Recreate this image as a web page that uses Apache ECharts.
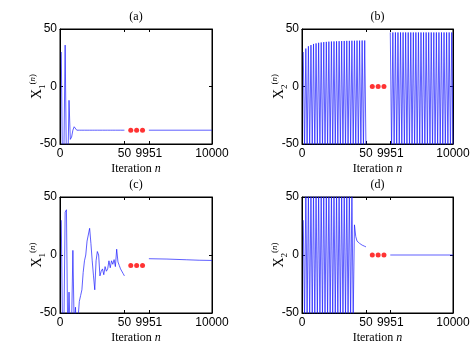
<!DOCTYPE html>
<html>
<head>
<meta charset="utf-8">
<script src="https://cdn.jsdelivr.net/npm/echarts@6/dist/echarts.min.js"></script>
<style>
  html, body { margin: 0; padding: 0; background: #fff; }
  #chart { width: 474px; height: 353px; }
</style>
</head>
<body>
<div id="chart"></div>
<script>
// ticks on the broken iteration axis
const tickN = [0, 50, 9951, 10000];

// (a) X1, n = 1..50 then n = 9951..10000
const aLeft = [30, -80, -60, 36, -70, -75, -12, -46, -44, -38,
  -35, -36, -38, -38, -38, -38, -38, -38, -38, -38,
  -38, -38, -38, -38, -38, -38, -38, -38, -38, -38,
  -38, -38, -38, -38, -38, -38, -38, -38, -38, -38,
  -38, -38, -38, -38, -38, -38, -38, -38, -38, -38];
const aRightN = [9951, 10000];
const aRight = [-38, -38];

// (b) X2
const bLeft = [30, -55, 33, -55, 35, -55, 36, -55, 37, -55,
  37.5, -55, 38, -55, 38.3, -55, 38.6, -55, 38.8, -55,
  39, -55, 39.1, -55, 39.2, -55, 39.3, -55, 39.4, -55,
  39.5, -55, 39.6, -55, 39.7, -55, 39.7, -55, 39.8, -55,
  39.8, -55, 39.9, -55, 39.9, -55, 40, -55, 40, -55];
const bRightN = [9951, 9952, 9953, 9954, 9955, 9956, 9957, 9958, 9959, 9960,
  9961, 9962, 9963, 9964, 9965, 9966, 9967, 9968, 9969, 9970,
  9971, 9972, 9973, 9974, 9975, 9976, 9977, 9978, 9979, 9980,
  9981, 9982, 9983, 9984, 9985, 9986, 9987, 9988, 9989, 9990,
  9991, 9992, 9993, 9994, 9995, 9996, 9997, 9998, 9999, 10000];
const bRight = [47, -55, 47, -55, 47, -55, 47, -55, 47, -55,
  47, -55, 47, -55, 47, -55, 47, -55, 47, -55,
  47, -55, 47, -55, 47, -55, 47, -55, 47, -55,
  47, -55, 47, -55, 47, -55, 47, -55, 47, -55,
  47, -55, 47, -55, 47, -55, 47, -55, 47, -55];

// (c) X1
const cLeft = [30, -70, -65, 37, 39, -70, -32, -70, -60, 4,
  -62, -45, -70, -55, -40, -35, -30, -15, -5, 0,
  12, 13, 23, 10, -5, -18, -30, -5, 3, 0,
  -18, -14, -12, -17, -10, -14, -12, -5, -11, -5,
  -8, -4, -10, 5, -6, -9, -12, -13, -16, -18];
const cRightN = [9951, 9965, 9980, 9990, 10000];
const cRight = [-3.2, -3.5, -4.1, -4.5, -4.7];

// (d) X2
const dLeft = [30, -55, 55, -55, 55, -55, 55, -55, 55, -55,
  55, -55, 55, -55, 55, -55, 55, -55, 55, -55,
  55, -55, 55, -55, 55, -55, 55, -55, 55, -55,
  55, -55, 55, -55, 55, -55, 55, -55, 55, -55,
  26, 16, 12, 11, 10, 9, 8.5, 8, 7.5, 7];
const dRightN = [9951, 10000];
const dRight = [0, 0];

const panels = [
  { title: '(a)', sub: '1', left: aLeft, rightN: aRightN, right: aRight, dotY: -38 },
  { title: '(b)', sub: '2', left: bLeft, rightN: bRightN, right: bRight, dotY: 0 },
  { title: '(c)', sub: '1', left: cLeft, rightN: cRightN, right: cRight, dotY: -9 },
  { title: '(d)', sub: '2', left: dLeft, rightN: dRightN, right: dRight, dotY: 0 }
];

const grids = [
  { left: 60, top: 29, width: 152, height: 115 },
  { left: 302, top: 29, width: 151, height: 115 },
  { left: 60, top: 197, width: 152, height: 116 },
  { left: 302, top: 197, width: 151, height: 116 }
];

// broken axis: 0..50, a gap, then 9951..10000
const GAP = 19;
function toAxis(n) { return n <= 50 ? n : n - 9951 + 50 + GAP; }
const xMax = toAxis(10000);
const tickPos = tickN.map(toAxis);
const dotPos = [0.26, 0.5, 0.74].map(f => 50 + GAP * f);

const serif = 'Liberation Serif';
const sans = 'Liberation Sans';
const blue = '#1a1aff';

const option = { animation: false, grid: [], xAxis: [], yAxis: [], series: [], graphic: [] };

panels.forEach((p, i) => {
  const g = grids[i];
  option.grid.push(Object.assign({ show: true, borderColor: '#000', borderWidth: 1 }, g));

  const line = { show: true, onZero: false, lineStyle: { color: '#000', width: 1 } };
  const tick = { show: true, inside: true, length: 3, customValues: tickPos, lineStyle: { color: '#000' } };

  option.xAxis.push({
    gridIndex: i, type: 'value', min: 0, max: xMax, position: 'bottom',
    axisLine: line, axisTick: tick, splitLine: { show: false },
    axisLabel: {
      customValues: tickPos, margin: 4, color: '#000', fontSize: 12, fontFamily: sans,
      formatter: v => String(tickN[tickPos.indexOf(v)])
    },
    name: '{t|Iteration }{i|n}', nameLocation: 'middle', nameGap: 19, nameMoveOverlap: false,
    nameTextStyle: { rich: {
      t: { fontFamily: serif, fontSize: 12, color: '#000' },
      i: { fontFamily: serif, fontSize: 12, fontStyle: 'italic', color: '#000' }
    } }
  });
  option.xAxis.push({
    gridIndex: i, type: 'value', min: 0, max: xMax, position: 'top',
    axisLine: line, axisTick: tick, axisLabel: { show: false }, splitLine: { show: false }
  });

  const ytick = { show: true, inside: true, length: 3, lineStyle: { color: '#000' } };
  option.yAxis.push({
    gridIndex: i, type: 'value', min: -50, max: 50, interval: 50, position: 'left',
    axisLine: line, axisTick: ytick, splitLine: { show: false },
    axisLabel: { margin: 3, color: '#000', fontSize: 12, fontFamily: sans },
    name: '{x|X}{sb|' + p.sub + '}{sp|(}{si|n}{sp|)}', nameLocation: 'middle', nameRotate: 90,
    nameGap: 13, nameMoveOverlap: false,
    nameTextStyle: { rich: {
      x: { fontFamily: serif, fontSize: 14, color: '#000', lineHeight: 19 },
      sb: { fontFamily: serif, fontSize: 9, color: '#000', verticalAlign: 'bottom' },
      sp: { fontFamily: serif, fontSize: 9, color: '#000', verticalAlign: 'top' },
      si: { fontFamily: serif, fontSize: 9, fontStyle: 'italic', color: '#000', verticalAlign: 'top' }
    } }
  });
  option.yAxis.push({
    gridIndex: i, type: 'value', min: -50, max: 50, interval: 50, position: 'right',
    axisLine: line, axisTick: ytick, axisLabel: { show: false }, splitLine: { show: false }
  });

  const lineStyle = { color: blue, width: 0.7 };
  option.series.push({
    type: 'line', xAxisIndex: 2 * i, yAxisIndex: 2 * i, showSymbol: false, clip: true,
    lineStyle: lineStyle, data: p.left.map((v, k) => [toAxis(k + 1), v])
  });
  option.series.push({
    type: 'line', xAxisIndex: 2 * i, yAxisIndex: 2 * i, showSymbol: false, clip: true,
    lineStyle: lineStyle, data: p.right.map((v, k) => [toAxis(p.rightN[k]), v])
  });
  option.series.push({
    type: 'scatter', xAxisIndex: 2 * i, yAxisIndex: 2 * i, symbolSize: 5,
    itemStyle: { color: '#ff0000' }, data: dotPos.map(x => [x, p.dotY])
  });

  option.graphic.push({
    type: 'text', x: g.left + g.width / 2, y: g.top - 12.5,
    style: { text: p.title, fill: '#000', font: '12px "' + serif + '"', align: 'center', verticalAlign: 'middle' }
  });
});

const chart = echarts.init(document.getElementById('chart'));
chart.setOption(option);
window.addEventListener('resize', function () { chart.resize(); });
</script>
</body>
</html>
